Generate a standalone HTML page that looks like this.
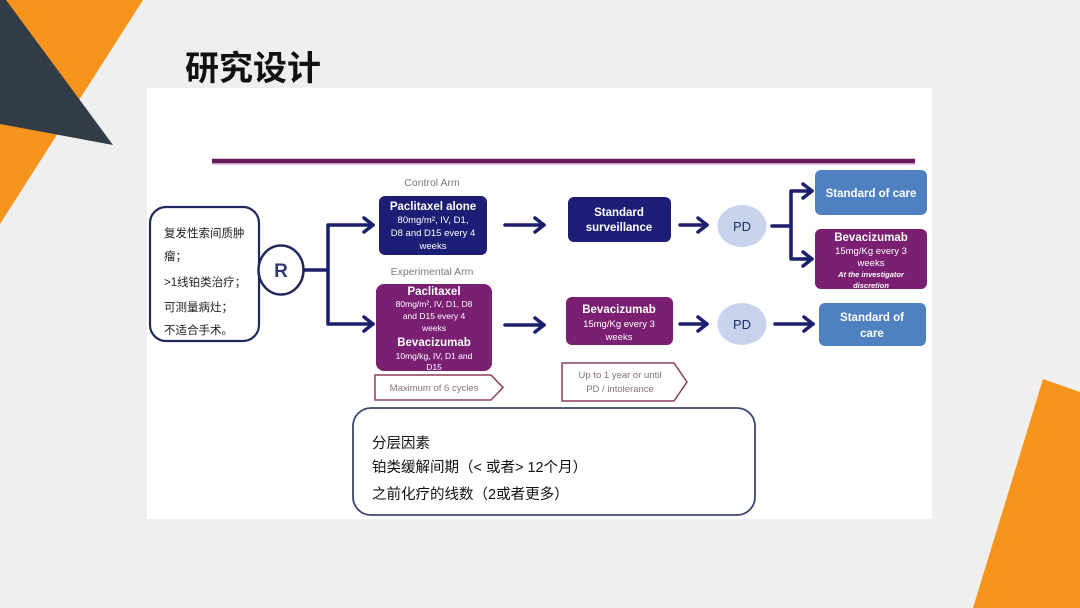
<!DOCTYPE html>
<html><head><meta charset="utf-8">
<style>
html,body{margin:0;padding:0;width:1080px;height:608px;overflow:hidden;background:#efefef;}
svg{display:block;}
</style></head>
<body>
<svg width="1080" height="608" viewBox="0 0 1080 608" xmlns="http://www.w3.org/2000/svg" font-family="'Liberation Sans', 'Noto Sans CJK SC', sans-serif">
<rect x="0" y="0" width="1080" height="608" fill="#efefef"/>
<!-- decorative shapes -->
<polygon points="0,0 143,0 0,224" fill="#f7941d"/>
<polygon points="0,0 6,0 113,145 0,124" fill="#323c47"/>
<polygon points="1043,379 1080,392 1080,608 973,608" fill="#f7941d"/>

<!-- title -->
<text x="185" y="80" font-size="34" font-weight="bold" fill="#111" font-family="'Liberation Sans','Noto Sans CJK SC',sans-serif">研究设计</text>

<!-- white panel -->
<rect x="147" y="88" width="785" height="431" fill="#ffffff"/>

<!-- purple line -->
<line x1="212" y1="163.5" x2="915" y2="163.5" stroke="#e9c8e2" stroke-width="3"/>
<line x1="212" y1="161" x2="915" y2="161" stroke="#661a5c" stroke-width="4.5"/>

<!-- left box -->
<rect x="150" y="207" width="109" height="134" rx="16" ry="16" fill="#fff" stroke="#1f2a5c" stroke-width="2.2"/>
<g font-size="11.5" fill="#222" font-family="'Liberation Sans','Noto Sans CJK SC',sans-serif">
<text x="164" y="237">复发性索间质肿</text>
<text x="164" y="260">瘤；</text>
<text x="164" y="286">&gt;1线铂类治疗；</text>
<text x="164" y="311">可测量病灶；</text>
<text x="164" y="334">不适合手术。</text>
</g>

<!-- R circle -->
<ellipse cx="281" cy="270" rx="22.5" ry="24.5" fill="#fff" stroke="#1f2a5c" stroke-width="2.5"/>
<text x="281" y="277" font-size="19" font-weight="bold" fill="#2e3b6a" text-anchor="middle">R</text>

<g stroke="#1c1f6e" stroke-width="3.5" fill="none" stroke-linecap="round" stroke-linejoin="round">
<!-- R connector -->
<polyline points="304,270 328,270"/>
<polyline points="373,225 328,225 328,324 373,324"/>
<polyline points="364,218 373,225 364,232"/>
<polyline points="364,317 373,324 364,331"/>
<!-- middle arrows -->
<line x1="505" y1="225" x2="544" y2="225"/>
<polyline points="535,218 544,225 535,232"/>
<line x1="505" y1="325" x2="544" y2="325"/>
<polyline points="535,318 544,325 535,332"/>
<line x1="680" y1="225" x2="707" y2="225"/>
<polyline points="698,218 707,225 698,232"/>
<line x1="680" y1="324" x2="707" y2="324"/>
<polyline points="698,317 707,324 698,331"/>
<!-- PD right connectors -->
<line x1="772" y1="226" x2="791" y2="226"/>
<polyline points="812,191 791,191 791,259 812,259"/>
<polyline points="803,184 812,191 803,198"/>
<polyline points="803,252 812,259 803,266"/>
<line x1="775" y1="324" x2="813" y2="324"/>
<polyline points="804,317 813,324 804,331"/>
</g>

<!-- arm labels -->
<text x="432" y="186" font-size="10.5" fill="#7a7a7a" text-anchor="middle">Control  Arm</text>
<text x="432" y="275" font-size="10.5" fill="#7a7a7a" text-anchor="middle">Experimental  Arm</text>

<!-- Paclitaxel alone box -->
<rect x="379" y="196" width="108" height="59" rx="6" fill="#1b1e74"/>
<g fill="#fff" text-anchor="middle">
<text x="433" y="210" font-size="11.5" font-weight="bold">Paclitaxel alone</text>
<text x="433" y="223" font-size="9.5">80mg/m², IV, D1,</text>
<text x="433" y="236" font-size="9.5">D8 and D15 every 4</text>
<text x="433" y="249" font-size="9.5">weeks</text>
</g>

<!-- Experimental box -->
<rect x="376" y="284" width="116" height="87" rx="8" fill="#7a1f72"/>
<g fill="#fff" text-anchor="middle">
<text x="434" y="295" font-size="11.5" font-weight="bold">Paclitaxel</text>
<text x="434" y="307" font-size="8.5">80mg/m², IV, D1, D8</text>
<text x="434" y="319" font-size="8.5">and D15 every 4</text>
<text x="434" y="331" font-size="8.5">weeks</text>
<text x="434" y="346" font-size="11.5" font-weight="bold">Bevacizumab</text>
<text x="434" y="359" font-size="8.5">10mg/kg, IV, D1 and</text>
<text x="434" y="370" font-size="8.5">D15</text>
</g>

<!-- Standard surveillance -->
<rect x="568" y="197" width="103" height="45" rx="6" fill="#1b1e74"/>
<g fill="#fff" text-anchor="middle" font-size="11.5" font-weight="bold">
<text x="619" y="216">Standard</text>
<text x="619" y="231">surveillance</text>
</g>

<!-- Bevacizumab middle -->
<rect x="566" y="297" width="107" height="48" rx="6" fill="#7a1f72"/>
<g fill="#fff" text-anchor="middle">
<text x="619" y="313" font-size="11.5" font-weight="bold">Bevacizumab</text>
<text x="619" y="327" font-size="9.5">15mg/Kg every 3</text>
<text x="619" y="340" font-size="9.5">weeks</text>
</g>

<!-- PD ellipses -->
<ellipse cx="742" cy="226" rx="24.5" ry="21" fill="#c8d4ee"/>
<text x="742" y="231" font-size="13" fill="#1f2d6a" text-anchor="middle">PD</text>
<ellipse cx="742" cy="324" rx="24.5" ry="21" fill="#c8d4ee"/>
<text x="742" y="329" font-size="13" fill="#1f2d6a" text-anchor="middle">PD</text>

<!-- right boxes -->
<rect x="815" y="170" width="112" height="45" rx="6" fill="#4f81c0"/>
<text x="871" y="197" font-size="11.5" font-weight="bold" fill="#fff" text-anchor="middle">Standard of care</text>

<rect x="815" y="229" width="112" height="60" rx="6" fill="#7a1f72"/>
<g fill="#fff" text-anchor="middle">
<text x="871" y="241" font-size="11.5" font-weight="bold">Bevacizumab</text>
<text x="871" y="254" font-size="9.5">15mg/Kg every 3</text>
<text x="871" y="266" font-size="9.5">weeks</text>
<text x="871" y="277" font-size="7.5" font-weight="bold" font-style="italic">At the investigator</text>
<text x="871" y="288" font-size="7.5" font-weight="bold" font-style="italic">discretion</text>
</g>

<rect x="819" y="303" width="107" height="43" rx="6" fill="#4f81c0"/>
<g fill="#fff" text-anchor="middle" font-size="11.5" font-weight="bold">
<text x="872" y="321">Standard of</text>
<text x="872" y="337">care</text>
</g>

<!-- pentagon labels -->
<polygon points="375,375 491,375 503,387.5 491,400 375,400" fill="#fff" stroke="#8b3f5c" stroke-width="1.5"/>
<text x="434" y="391" font-size="9.5" fill="#8a6f7c" text-anchor="middle">Maximum of 6 cycles</text>
<polygon points="562,363 674,363 687,382 674,401 562,401" fill="#fff" stroke="#8b3f5c" stroke-width="1.5"/>
<g font-size="9.5" fill="#8a6f7c" text-anchor="middle">
<text x="620" y="378">Up to 1 year or until</text>
<text x="620" y="392">PD / intolerance</text>
</g>

<!-- bottom box -->
<rect x="353" y="408" width="402" height="107" rx="18" fill="#fff" stroke="#3c4470" stroke-width="1.8"/>
<g font-size="14.5" fill="#111" font-family="'Liberation Sans','Noto Sans CJK SC',sans-serif">
<text x="372" y="448">分层因素</text>
<text x="372" y="472">铂类缓解间期（&lt; 或者&gt; 12个月）</text>
<text x="372" y="499">之前化疗的线数（2或者更多）</text>
</g>
</svg>
</body></html>
